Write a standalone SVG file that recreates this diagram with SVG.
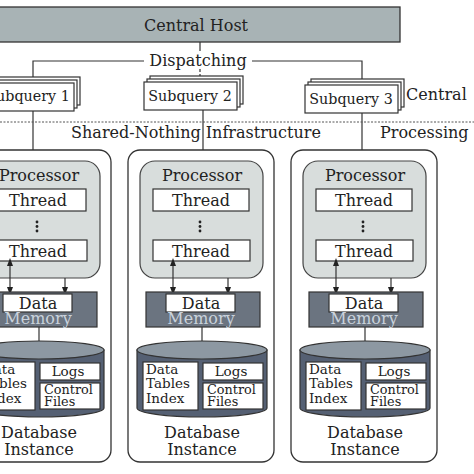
<svg xmlns="http://www.w3.org/2000/svg" width="474" height="474" viewBox="0 0 474 474">
<style>
text{font-family:"DejaVu Serif","Liberation Serif",serif;fill:#222;font-size:16px}
.c{text-anchor:middle}
.ln{stroke:#333;stroke-width:1.2;fill:none}
.wb{fill:#fff;stroke:#333;stroke-width:1.2}
.sm{font-size:13.5px}
.xs{font-size:12.8px}
.mem{fill:#c9d2dc}
.sq{font-size:14.3px}
</style>
<defs>
<marker id="ah" markerWidth="8" markerHeight="8" refX="4" refY="4" orient="auto-start-reverse" markerUnits="userSpaceOnUse">
<path d="M0,1 L8,4 L0,7 Z" fill="#222"/>
</marker>
<g id="inst">
<rect x="128" y="150" width="146" height="312" rx="12" fill="#fff" stroke="#333" stroke-width="1.3"/>
<rect x="140" y="161" width="123" height="117" rx="15" fill="#d8dddc" stroke="#444" stroke-width="1.2"/>
<text x="202" y="181" class="c">Processor</text>
<rect x="153" y="189" width="96" height="22" class="wb"/>
<text x="201" y="206" class="c">Thread</text>
<circle cx="200" cy="222" r="1.4" fill="#222"/>
<circle cx="200" cy="226.5" r="1.4" fill="#222"/>
<circle cx="200" cy="231" r="1.4" fill="#222"/>
<rect x="153" y="240" width="97" height="21" class="wb"/>
<text x="201" y="257" class="c">Thread</text>
<line x1="173" y1="262" x2="173" y2="291" class="ln" marker-start="url(#ah)" marker-end="url(#ah)"/>
<line x1="228" y1="278" x2="228" y2="291" class="ln" marker-end="url(#ah)"/>
<rect x="146" y="292" width="114" height="35" fill="#6b7480" stroke="#333" stroke-width="1.2"/>
<rect x="166" y="294" width="69" height="18" class="wb"/>
<text x="201" y="309" class="c">Data</text>
<text x="201" y="324" class="c mem">Memory</text>
<line x1="202" y1="327" x2="202" y2="341" class="ln"/>
<path d="M137,350 L137,408 A65,9 0 0,0 267,408 L267,350 Z" fill="#556073" stroke="#333" stroke-width="1.2"/>
<ellipse cx="202" cy="350" rx="65" ry="9" fill="#8d98a2" stroke="#333" stroke-width="1.2"/>
<rect x="143" y="362" width="55" height="48" class="wb"/>
<text x="146" y="374" class="sm">Data</text>
<text x="146" y="388" class="sm">Tables</text>
<text x="146" y="403" class="sm">Index</text>
<rect x="203" y="363" width="60" height="17" class="wb"/>
<text x="231" y="376" class="c sm">Logs</text>
<rect x="203" y="383" width="60" height="26" class="wb"/>
<text x="207" y="394" class="xs">Control</text>
<text x="207" y="406" class="xs">Files</text>
<text x="202" y="438" class="c">Database</text>
<text x="202" y="455" class="c">Instance</text>
</g>
<g id="sq">
<rect x="6" y="-6" width="93" height="28" class="wb"/>
<rect x="3" y="-3" width="93" height="28" class="wb"/>
<rect x="0" y="0" width="93" height="28" class="wb"/>
</g>
</defs>
<rect width="474" height="474" fill="#fff"/>
<g id="central-host">
<rect x="-5" y="7" width="405" height="35" fill="#a8b3b5" stroke="#333" stroke-width="1.3"/>
<text x="196" y="31" class="c">Central Host</text>
</g>
<g id="connectors">
<line x1="200" y1="42" x2="200" y2="51" class="ln"/>
<line x1="200" y1="69" x2="200" y2="80" class="ln" stroke-dasharray="3,2"/>
<polyline points="33,80 33,61 144,61" class="ln"/>
<polyline points="252,61 362,61 362,80" class="ln"/>
<line x1="33" y1="111" x2="33" y2="150" class="ln"/>
<line x1="203" y1="110" x2="203" y2="150" class="ln"/>
<line x1="362" y1="112" x2="362" y2="150" class="ln"/>
<line x1="0" y1="122" x2="474" y2="122" stroke="#555" stroke-width="1" stroke-dasharray="2,1.5"/>
</g>
<text x="198" y="66" class="c">Dispatching</text>
<g id="subquery1">
<use href="#sq" x="-19" y="83"/>
<text x="28" y="101" class="c sq">Subquery 1</text>
</g>
<g id="subquery2">
<use href="#sq" x="144" y="82"/>
<text x="190" y="101" class="c sq">Subquery 2</text>
</g>
<g id="subquery3">
<use href="#sq" x="305" y="85"/>
<text x="351" y="104" class="c sq">Subquery 3</text>
</g>
<text x="406" y="100" font-size="15">Central</text>
<text x="196" y="138" class="c">Shared-Nothing Infrastructure</text>
<text x="380" y="138">Processing</text>
<g id="instance1"><use href="#inst" x="-163"/></g>
<g id="instance2"><use href="#inst"/></g>
<g id="instance3"><use href="#inst" x="163"/></g>
</svg>
